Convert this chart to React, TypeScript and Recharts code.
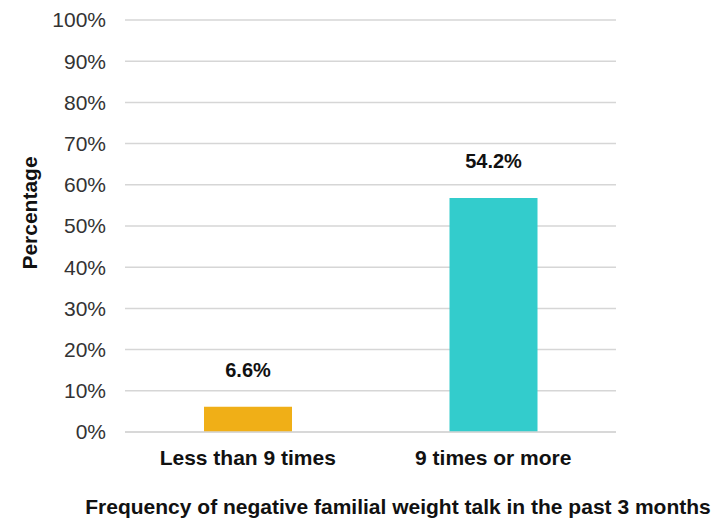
import React from 'react';
import { BarChart, Bar, XAxis, YAxis, CartesianGrid, LabelList, Label, Cell } from 'recharts';

// Values (bar heights) and the printed labels
const categories = ['Less than 9 times', '9 times or more'];
const barValues = [6.1, 56.8];
const barLabels = ['6.6%', '54.2%'];
const barColors = ['#F0AF17', '#33CCCC'];
const yTicks = [0, 10, 20, 30, 40, 50, 60, 70, 80, 90, 100];

const chartData = categories.map((name, i) => ({
  name,
  value: barValues[i],
  label: barLabels[i],
}));

const FONT = '"Liberation Sans", Arial, sans-serif';

export default function App() {
  return (
    <div style={{ position: 'absolute', left: 0, top: 0, background: '#fff' }}>
      <BarChart
        width={720}
        height={525}
        data={chartData}
        margin={{ top: 20, right: 104, left: 0, bottom: 0 }}
      >
        <CartesianGrid vertical={false} stroke="#d6d6d6" strokeWidth={1.5} />
        <XAxis
          dataKey="name"
          height={93}
          tickLine={false}
          axisLine={{ stroke: '#d6d6d6', strokeWidth: 1.5 }}
          tickMargin={12}
          interval={0}
          tick={{ fill: '#111', fontSize: 21, fontWeight: 'bold', fontFamily: FONT }}
        >
          <Label
            content={() => (
              <text
                x={398}
                y={514}
                textAnchor="middle"
                fill="#111"
                fontSize={21}
                fontWeight="bold"
                fontFamily={FONT}
              >
                Frequency of negative familial weight talk in the past 3 months
              </text>
            )}
          />
        </XAxis>
        <YAxis
          width={125}
          domain={[0, 100]}
          ticks={yTicks}
          tickFormatter={(v) => `${v}%`}
          tickLine={false}
          axisLine={false}
          tickMargin={13}
          tick={{ fill: '#333', fontSize: 21, fontFamily: FONT }}
        >
          <Label
            content={() => (
              <text
                transform="translate(37,213) rotate(-90)"
                textAnchor="middle"
                fill="#111"
                fontSize={21}
                fontWeight="bold"
                fontFamily={FONT}
              >
                Percentage
              </text>
            )}
          />
        </YAxis>
        <Bar dataKey="value" barSize={88} isAnimationActive={false}>
          {chartData.map((d, i) => (
            <Cell key={d.name} fill={barColors[i]} />
          ))}
          <LabelList
            dataKey="label"
            position="top"
            offset={30}
            fill="#111"
            fontSize={20}
            fontWeight="bold"
            fontFamily={FONT}
          />
        </Bar>
      </BarChart>
    </div>
  );
}
